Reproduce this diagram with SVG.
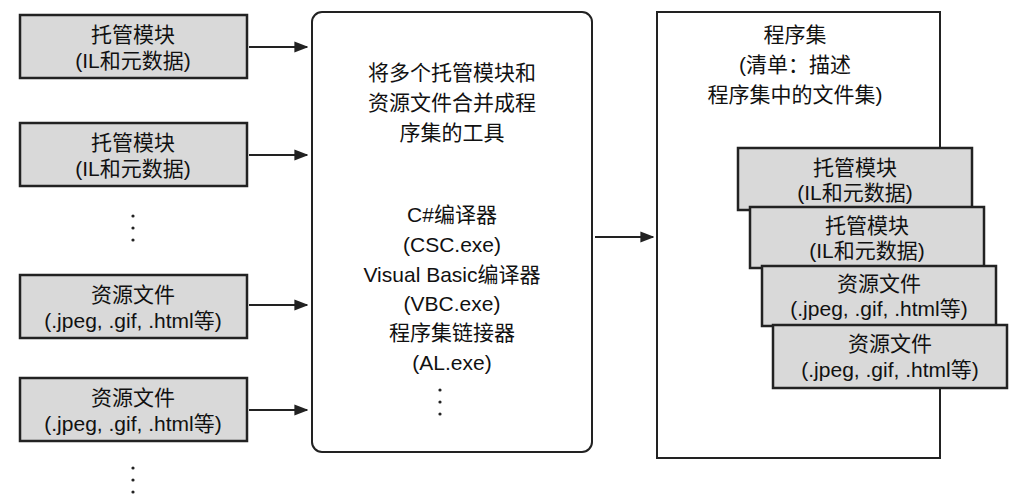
<svg xmlns="http://www.w3.org/2000/svg" width="1020" height="504" viewBox="0 0 1020 504">
<style>
text{font-family:"Liberation Sans","Noto Sans CJK SC",sans-serif;font-size:21px;fill:#111;text-anchor:middle}
.g{fill:#d9d9d9;stroke:#222;stroke-width:2.5}
.c{stroke:#222;stroke-width:2;fill:none}
.d{fill:#222}
</style>
<defs><marker id="a" viewBox="0 0 10 10" refX="9" refY="5" markerWidth="7" markerHeight="7" orient="auto"><path d="M0,1L10,5L0,9z" fill="#222"/></marker></defs>
<rect width="1020" height="504" fill="#fff"/>
<g id="m1"><rect class="g" x="20" y="15" width="227" height="63"/><text x="133" y="42">托管模块</text><text x="133" y="68">(IL和元数据)</text></g>
<g id="m2"><rect class="g" x="20" y="123" width="227" height="63"/><text x="133" y="150">托管模块</text><text x="133" y="176">(IL和元数据)</text></g>
<g id="d1" class="d"><circle cx="133" cy="216" r="1.6"/><circle cx="133" cy="228" r="1.6"/><circle cx="133" cy="240" r="1.6"/></g>
<g id="r1"><rect class="g" x="20" y="275" width="227" height="63"/><text x="133" y="302">资源文件</text><text x="133" y="328">(.jpeg, .gif, .html等)</text></g>
<g id="r2"><rect class="g" x="20" y="378" width="227" height="63"/><text x="133" y="405">资源文件</text><text x="133" y="431">(.jpeg, .gif, .html等)</text></g>
<g id="d2" class="d"><circle cx="133" cy="468" r="1.6"/><circle cx="133" cy="480" r="1.6"/><circle cx="133" cy="492" r="1.6"/></g>
<g id="tool"><rect x="312" y="12" width="280" height="440" rx="10" fill="#fff" stroke="#222" stroke-width="2"/>
<text x="452" y="80">将多个托管模块和</text><text x="452" y="110">资源文件合并成程</text><text x="452" y="140">序集的工具</text>
<text x="452" y="222">C#编译器</text><text x="452" y="252">(CSC.exe)</text><text x="452" y="282">Visual Basic编译器</text><text x="452" y="311">(VBC.exe)</text><text x="452" y="340">程序集链接器</text><text x="452" y="370">(AL.exe)</text>
<g class="d"><circle cx="440" cy="390" r="1.6"/><circle cx="440" cy="402" r="1.6"/><circle cx="440" cy="414" r="1.6"/></g></g>
<g id="asm"><rect x="657" y="12" width="283" height="446" fill="#fff" stroke="#222" stroke-width="2"/>
<text x="795" y="42">程序集</text><text x="795" y="72">(清单：描述</text><text x="795" y="102">程序集中的文件集)</text></g>
<g id="a1"><rect class="g" x="738" y="148" width="234" height="62"/><text x="855" y="175">托管模块</text><text x="855" y="200">(IL和元数据)</text></g>
<g id="a2"><rect class="g" x="750" y="207" width="234" height="61"/><text x="867" y="233">托管模块</text><text x="867" y="258">(IL和元数据)</text></g>
<g id="a3"><rect class="g" x="762" y="266" width="234" height="60"/><text x="879" y="291">资源文件</text><text x="879" y="316">(.jpeg, .gif, .html等)</text></g>
<g id="a4"><rect class="g" x="773" y="325" width="234" height="63"/><text x="890" y="351">资源文件</text><text x="890" y="377">(.jpeg, .gif, .html等)</text></g>
<g id="connectors" class="c">
<line class="c" x1="249" y1="47" x2="307" y2="47" marker-end="url(#a)"/>
<line class="c" x1="249" y1="155" x2="307" y2="155" marker-end="url(#a)"/>
<line class="c" x1="249" y1="305" x2="307" y2="305" marker-end="url(#a)"/>
<line class="c" x1="249" y1="410" x2="307" y2="410" marker-end="url(#a)"/>
<line class="c" x1="595" y1="237" x2="653" y2="237" marker-end="url(#a)"/>
</g>
</svg>
